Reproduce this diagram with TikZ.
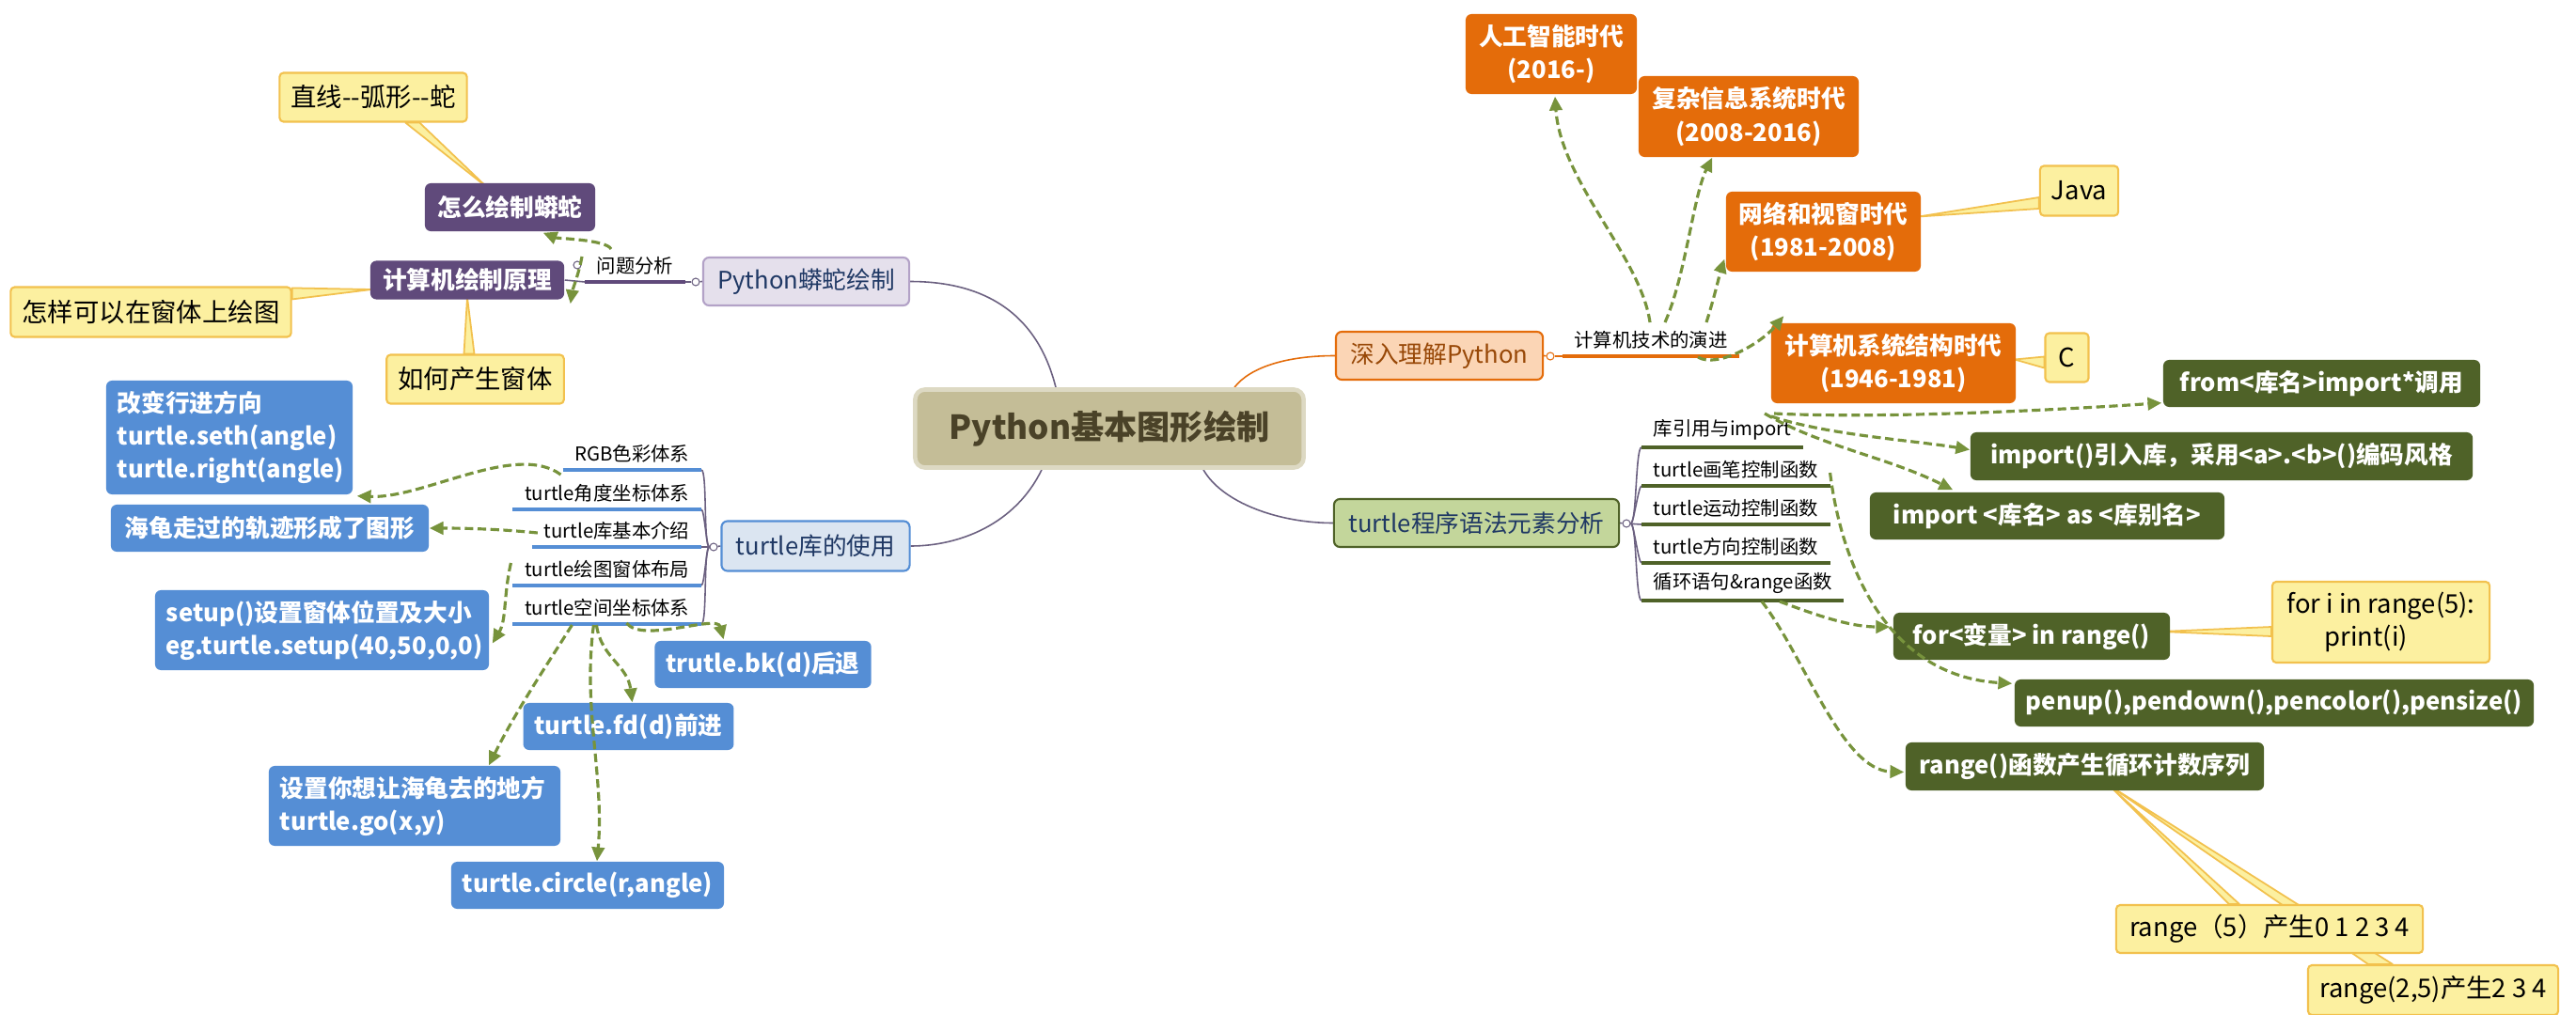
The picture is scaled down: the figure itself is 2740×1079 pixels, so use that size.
\documentclass[tikz,border=0pt]{standalone}
\usepackage{fontspec}
\setmainfont{Noto Sans CJK SC}
\usepackage{tikz}
\usetikzlibrary{arrows.meta,backgrounds}

\definecolor{snakepurple}{HTML}{604A7B}
\definecolor{snakefill}{HTML}{E5E0EC}
\definecolor{snakeedge}{HTML}{B3A2C7}
\definecolor{turtleblue}{HTML}{558ED5}
\definecolor{turtlefill}{HTML}{DBE5F1}
\definecolor{eraorange}{HTML}{E46C0A}
\definecolor{deepfill}{HTML}{FBD5B5}
\definecolor{deeptext}{HTML}{984807}
\definecolor{syntaxolive}{HTML}{4F6228}
\definecolor{syntaxfill}{HTML}{C3D69B}
\definecolor{relgreen}{HTML}{77933C}
\definecolor{notefill}{HTML}{FCF0A0}
\definecolor{noteline}{HTML}{F2C14E}
\definecolor{centerfill}{HTML}{C4BD97}
\definecolor{centerline}{HTML}{DDD9C3}
\definecolor{centertext}{HTML}{4A4228}
\definecolor{topicnavy}{HTML}{1F3864}
\definecolor{branchgray}{HTML}{6B6080}

\begin{document}
\begin{tikzpicture}[x=0.01cm,y=-0.01cm,
	box/.style={rounded corners=1.8pt,inner xsep=0.12cm,inner ysep=0pt,font=\fontsize{7.3pt}{10pt}\selectfont\bfseries,text=white},
	purplebox/.style={box,fill=snakepurple},
	bluebox/.style={box,fill=turtleblue},
	erabox/.style={box,fill=eraorange,align=center},
	olivebox/.style={box,fill=syntaxolive},
	note/.style={rounded corners=1.2pt,fill=notefill,draw=noteline,line width=0.6pt,inner xsep=0.12cm,inner ysep=0pt,font=\fontsize{7.8pt}{10pt}\selectfont},
	topic/.style={rounded corners=1.8pt,line width=0.6pt,inner ysep=0pt,font=\fontsize{7.3pt}{10pt}\selectfont},
	sub/.style={inner xsep=0.12cm,inner ysep=0.07cm,font=\fontsize{5.8pt}{7pt}\selectfont},
	knob/.style={circle,draw=branchgray,fill=white,line width=0.3pt,inner sep=0pt,minimum size=0.08cm},
	rel/.style={->,>={Triangle[length=4.2pt,width=3.8pt]},draw=relgreen,line width=0.9pt,dash pattern=on 2.6pt off 1.3pt},
	pointer/.style={fill=notefill,draw=noteline,line width=0.5pt,line join=round},
	branch/.style={draw=branchgray,line width=0.45pt},
	]
	\useasboundingbox (0,0) rectangle (2740,1079);
	% central topic
	\node[rounded corners=3pt,fill=centerfill,draw=centerline,line width=1.3pt,minimum width=4.13cm,minimum height=0.83cm,font=\fontsize{10pt}{11pt}\selectfont\bfseries,text=centertext] (center) at (1180,456) {Python基本图形绘制};
	%
	% Python蟒蛇绘制
	\node[topic,fill=snakefill,draw=snakeedge,text=topicnavy,minimum width=2.19cm,minimum height=0.51cm] (snakeTopic) at (857.5,299.5) {Python蟒蛇绘制};
	\node[knob] (snakeKnob) at (740,300) {};
	\node[sub,anchor=south west] (analysis) at (622,300) {问题分析};
	\node[knob] (analysisKnob) at (614,282) {};
	\node[purplebox,minimum width=2.06cm,minimum height=0.41cm] (principle) at (497,298) {计算机绘制原理};
	\node[purplebox,minimum width=1.81cm,minimum height=0.51cm] (howDraw) at (542.5,220.5) {怎么绘制蟒蛇};
	\node[note,minimum width=1.99cm,minimum height=0.52cm] (snake) at (397,103.5) {直线-{}-弧形-{}-蛇};
	\node[note,minimum width=2.88cm,minimum height=0.53cm] (onWindow) at (160.5,332) {怎样可以在窗体上绘图};
	\node[note,minimum width=1.84cm,minimum height=0.52cm] (makeWin) at (505.5,403.5) {如何产生窗体};
	%
	% turtle库的使用
	\node[topic,fill=turtlefill,draw=turtleblue,text=topicnavy,minimum width=2.00cm,minimum height=0.53cm] (turtleTopic) at (867.5,581) {turtle库的使用};
	\node[knob] (turtleKnob) at (759,582) {};
	\node[sub,anchor=south east] (rgb) at (746,500) {RGB色彩体系};
	\node[sub,anchor=south east] (angle) at (746,542) {turtle角度坐标体系};
	\node[sub,anchor=south east] (base) at (746,582) {turtle库基本介绍};
	\node[sub,anchor=south east] (layout) at (746,623) {turtle绘图窗体布局};
	\node[sub,anchor=south east] (space) at (746,664) {turtle空间坐标体系};
	\node[bluebox,text width=2.38cm,align=left,minimum height=1.21cm] (direction) at (244,465.5) {改变行进方向\\turtle.seth(angle)\\turtle.right(angle)};
	\node[bluebox,minimum width=3.38cm,minimum height=0.50cm] (track) at (287,562) {海龟走过的轨迹形成了图形};
	\node[bluebox,text width=3.31cm,align=left,minimum height=0.85cm] (setup) at (342.5,670.5) {setup()设置窗体位置及大小\\eg.turtle.setup(40,50,0,0)};
	\node[bluebox,minimum width=2.27cm,minimum height=0.50cm] (bk) at (811.5,707) {trutle.bk(d)后退};
	\node[bluebox,minimum width=2.21cm,minimum height=0.50cm] (fd) at (668.5,773) {turtle.fd(d)前进};
	\node[bluebox,text width=2.86cm,align=left,minimum height=0.85cm] (goto) at (441,857.5) {设置你想让海龟去的地方\\turtle.go(x,y)};
	\node[bluebox,minimum width=2.84cm,minimum height=0.50cm] (turtleCircle) at (625,942) {turtle.circle(r,angle)};
	%
	% 深入理解Python
	\node[topic,fill=deepfill,draw=eraorange,text=deeptext,minimum width=2.20cm,minimum height=0.51cm] (deepTopic) at (1531,378.5) {深入理解Python};
	\node[knob,draw=eraorange] (deepKnob) at (1649,379) {};
	\node[sub,anchor=south] (tech) at (1756,379) {计算机技术的演进};
	\node[erabox,minimum width=1.82cm,minimum height=0.85cm] (aiEra) at (1650,57.5) {人工智能时代\\(2016-)};
	\node[erabox,minimum width=2.34cm,minimum height=0.86cm] (infoEra) at (1860,124) {复杂信息系统时代\\(2008-2016)};
	\node[erabox,minimum width=2.07cm,minimum height=0.85cm] (netEra) at (1939.5,246.5) {网络和视窗时代\\(1981-2008)};
	\node[erabox,minimum width=2.60cm,minimum height=0.85cm] (archEra) at (2014,386.5) {计算机系统结构时代\\(1946-1981)};
	\node[note,minimum width=0.80cm,minimum height=0.53cm] (java) at (2211.5,203) {Java};
	\node[note,minimum width=0.46cm,minimum height=0.52cm] (cLang) at (2198.5,380.5) {C};
	%
	% turtle程序语法元素分析
	\node[topic,fill=syntaxfill,draw=syntaxolive,text=topicnavy,minimum width=3.03cm,minimum height=0.51cm] (syntaxTopic) at (1570.5,556.5) {turtle程序语法元素分析};
	\node[knob] (syntaxKnob) at (1730,557) {};
	\node[sub,anchor=south west] (lib) at (1746,476) {库引用与import};
	\node[sub,anchor=south west] (pen) at (1746,517) {turtle画笔控制函数};
	\node[sub,anchor=south west] (move) at (1746,558) {turtle运动控制函数};
	\node[sub,anchor=south west] (dir) at (1746,599) {turtle方向控制函数};
	\node[sub,anchor=south west] (loop) at (1746,639) {循环语句\&range函数};
	\node[olivebox,minimum width=3.37cm,minimum height=0.50cm] (fromImp) at (2469.5,408) {from<库名>import*调用};
	\node[olivebox,minimum width=5.34cm,minimum height=0.51cm] (importLib) at (2363,485.5) {import()引入库，采用<a>.<b>()编码风格};
	\node[olivebox,minimum width=3.77cm,minimum height=0.50cm] (importAs) at (2177.5,549) {import <库名> as <库别名>};
	\node[olivebox,minimum width=2.94cm,minimum height=0.50cm] (forRange) at (2161,677) {for<变量> in range()};
	\node[note,align=left,minimum width=2.31cm,minimum height=0.86cm] (forEx) at (2532.5,662) {for i in range(5):\\\hspace*{0.4cm}print(i)};
	\node[olivebox,minimum width=5.46cm,minimum height=0.50cm] (penup) at (2419,748) {penup(),pendown(),pencolor(),pensize()};
	\node[olivebox,minimum width=3.81cm,minimum height=0.51cm] (rangeFn) at (2217.5,815.5) {range()函数产生循环计数序列};
	\node[note,minimum width=2.66cm,minimum height=0.53cm] (range25) at (2588,1053.5) {range(2,5)产生2 3 4};
	\node[note,minimum width=3.26cm,minimum height=0.51cm] (range5) at (2414,988.5) {range（5）产生0 1 2 3 4};
	%
	\begin{pgfonlayer}{background}
		\fill[white] (0,0) rectangle (2740,1079);
		% branches from the central topic
		\draw[branch] ([shift={(-57,0)}]center.north) .. controls +(-23,-92) and +(62,0) .. (snakeTopic.east);
		\draw[branch] ([shift={(-72,0)}]center.south) .. controls +(-28,58) and +(52,0) .. (turtleTopic.east);
		\draw[branch,draw=eraorange] ([shift={(133,0)}]center.north) .. controls +(17,-22) and +(-50,0) .. (deepTopic.west);
		\draw[branch] ([shift={(100,0)}]center.south) .. controls +(20,35) and +(-58,0) .. (syntaxTopic.west);
		% sub branches
		\path[branch]
		(snakeTopic.west) edge (snakeKnob)
		(snakeKnob) edge (analysis.south east)
		(analysis.south west) edge (principle.east)
		(turtleTopic.west) edge (turtleKnob)
		(turtleKnob) edge[out=180,in=0,looseness=0.2] (rgb.south east)
		(turtleKnob) edge[out=180,in=0,looseness=0.2] (angle.south east)
		(turtleKnob) edge (base.south east)
		(turtleKnob) edge[out=180,in=0,looseness=0.2] (layout.south east)
		(turtleKnob) edge[out=180,in=0,looseness=0.2] (space.south east)
		(syntaxTopic.east) edge (syntaxKnob)
		(syntaxKnob) edge[out=0,in=180,looseness=0.2] (lib.south west)
		(syntaxKnob) edge[out=0,in=180,looseness=0.2] (pen.south west)
		(syntaxKnob) edge (move.south west)
		(syntaxKnob) edge[out=0,in=180,looseness=0.2] (dir.south west)
		(syntaxKnob) edge[out=0,in=180,looseness=0.2] (loop.south west);
		\path[draw=eraorange,line width=0.45pt]
		(deepTopic.east) edge (deepKnob)
		(deepKnob) edge (tech.south west);
		% underlines
		\path[draw=snakepurple,line width=1pt]
		(analysis.south west) edge (analysis.south east);
		\path[draw=turtleblue,line width=0.9pt]
		(rgb.south west) edge (rgb.south east)
		(angle.south west) edge (angle.south east)
		(base.south west) edge (base.south east)
		(layout.south west) edge (layout.south east)
		(space.south west) edge (space.south east);
		\path[draw=eraorange,line width=1.1pt]
		(tech.south west) edge (tech.south east);
		\path[draw=syntaxolive,line width=0.9pt]
		(lib.south west) edge (lib.south east)
		(pen.south west) edge (pen.south east)
		(move.south west) edge (move.south east)
		(dir.south west) edge (dir.south east)
		(loop.south west) edge (loop.south east);
		% callout pointers
		\filldraw[pointer] ([shift={(135,0)}]snake.south west) -- ([shift={(-24.5,5)}]howDraw.north) -- ([shift={(150,0)}]snake.south west) -- cycle;
		\filldraw[pointer] ([shift={(0,2)}]onWindow.north east) -- ([shift={(2,10)}]principle.west) -- ([shift={(0,14)}]onWindow.north east) -- cycle;
		\filldraw[pointer] ([shift={(-12,0)}]makeWin.north) -- ([shift={(0,-3)}]principle.south) -- ([shift={(-1,0)}]makeWin.north) -- cycle;
		\filldraw[pointer] ([shift={(0,7)}]java.west) -- ([shift={(-3,-16)}]netEra.east) -- ([shift={(0,19)}]java.west) -- cycle;
		\filldraw[pointer] ([shift={(0,-1)}]cLang.west) -- ([shift={(-2,-4)}]archEra.east) -- ([shift={(0,11)}]cLang.west) -- cycle;
		\filldraw[pointer] ([shift={(0,5)}]forEx.west) -- ([shift={(-10,-5)}]forRange.east) -- ([shift={(0,15)}]forEx.west) -- cycle;
		\filldraw[pointer] ([shift={(65,0)}]range25.north west) -- ([shift={(26,-6)}]rangeFn.south) -- ([shift={(91,0)}]range25.north west) -- cycle;
		\filldraw[pointer] ([shift={(121,0)}]range5.north west) -- ([shift={(26,-6)}]rangeFn.south) -- ([shift={(132,0)}]range5.north west) -- cycle;
	\end{pgfonlayer}
	%
	% relation arrows
	\draw[rel] ([shift={(28,-35)}]analysis.south west) .. controls +(-5,-10) and +(15,6) .. ([shift={(-56,1)}]howDraw.south east);
	\draw[rel] ([shift={(-3,-27)}]analysis.south west) .. controls +(-3,17) and +(2,-14) .. ([shift={(6,4)}]principle.south east);
	\draw[rel] ([shift={(51,-37)}]angle.south west) .. controls +(-48,-35) and +(71,3) .. ([shift={(4,1)}]direction.south east);
	\draw[rel] ([shift={(6,-15)}]base.south west) .. controls +(-40,-4) and +(40,0) .. (track.east);
	\draw[rel] ([shift={(-2,-24)}]layout.south west) .. controls +(-8,35) and +(15,-25) .. ([shift={(3,14)}]setup.east);
	\draw[rel] ([shift={(121,-1)}]space.south west) .. controls +(17,22) and +(-7,-27) .. ([shift={(74,-1)}]bk.north west);
	\draw[rel] ([shift={(89,1)}]space.south west) .. controls +(5,35) and +(-5,-40) .. ([shift={(4,0)}]fd.north);
	\draw[rel] ([shift={(63,1)}]space.south west) .. controls +(-25,40) and +(30,-60) .. ([shift={(79,0)}]goto.north);
	\draw[rel] ([shift={(86,1)}]space.south west) .. controls +(-12,90) and +(8,-90) .. ([shift={(10,0)}]turtleCircle.north);
	\draw[rel] ([shift={(-1,-36)}]tech.south) .. controls +(-10,-70) and +(6,90) .. ([shift={(4,2)}]aiEra.south);
	\draw[rel] ([shift={(15,-36)}]tech.south) .. controls +(22,-50) and +(-20,40) .. ([shift={(79,0)}]infoEra.south west);
	\draw[rel] ([shift={(59,-36)}]tech.south) .. controls +(8,-25) and +(-4,12) .. ([shift={(-1,-14)}]netEra.south west);
	\draw[rel] ([shift={(50,1)}]tech.south) .. controls +(20,12) and +(-25,30) .. ([shift={(14,-7)}]archEra.north west);
	\draw[rel] ([shift={(141,-36)}]lib.south west) .. controls +(100,5) and +(-150,10) .. ([shift={(-1,-5)}]fromImp.south west);
	\draw[rel] ([shift={(138,-33)}]lib.south west) .. controls +(60,20) and +(-60,-10) .. ([shift={(0,-7)}]importLib.west);
	\draw[rel] ([shift={(131,-36)}]lib.south west) .. controls +(60,35) and +(-70,-35) .. ([shift={(89,-2)}]importAs.north west);
	\draw[rel] ([shift={(0,-14)}]pen.south east) .. controls +(12,97) and +(-134,-8) .. ([shift={(-2,5)}]penup.north west);
	\draw[rel] ([shift={(147,1)}]loop.south west) .. controls +(45,17) and +(-40,0) .. ([shift={(-3,-10)}]forRange.west);
	\draw[rel] ([shift={(128,1)}]loop.south west) .. controls +(46,60) and +(-66,-2) .. ([shift={(-1,6)}]rangeFn.west);
\end{tikzpicture}
\end{document}
